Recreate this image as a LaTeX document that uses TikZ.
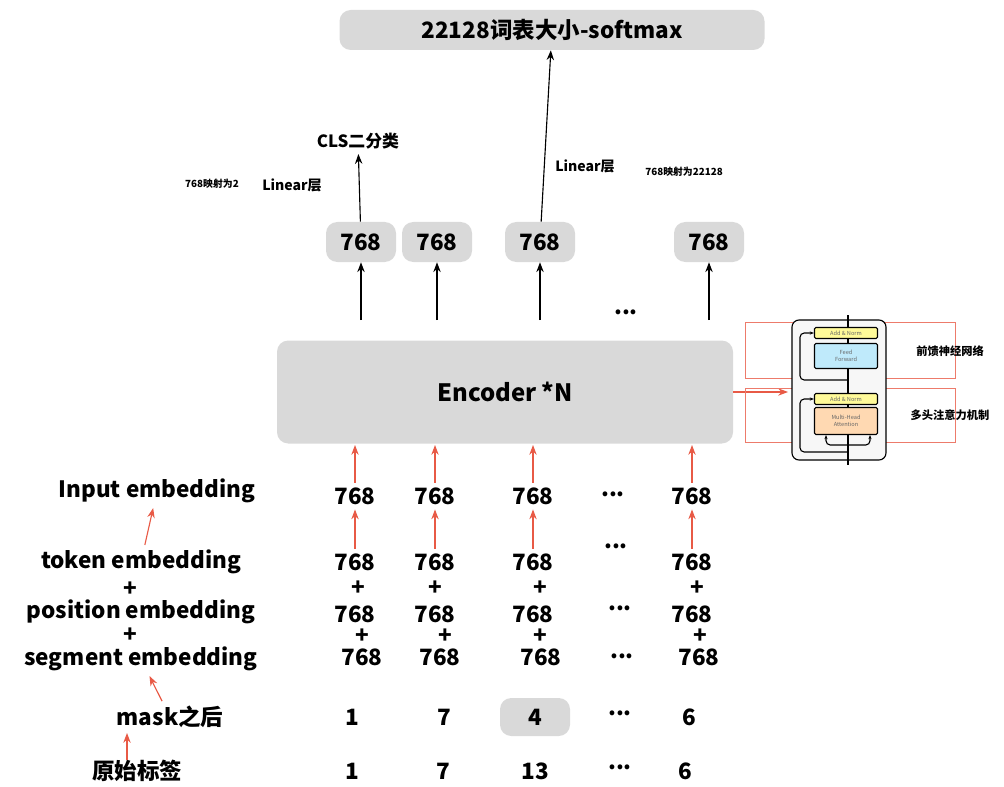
\documentclass[tikz,border=0pt]{standalone}
\usepackage{fontspec}
\setmainfont{Noto Sans CJK SC}
\usetikzlibrary{arrows.meta}
\definecolor{boxgray}{RGB}{217,217,217}
\definecolor{redarrow}{RGB}{232,90,70}
\tikzset{
  txt/.style={font=\bfseries\fontsize{16}{18}\selectfont},
  small/.style={font=\bfseries\fontsize{7}{8}\selectfont},
  gbox/.style={fill=boxgray,rounded corners=8pt,draw=none},
  blk/.style={thick,-{Stealth[length=7pt]}},
  redarr/.style={thick,redarrow,-{Stealth[length=7pt]}},
  tiny/.style={font=\fontsize{4}{5}\selectfont,text=black!60},
}
\begin{document}
\begin{tikzpicture}[x=0.025cm,y=-0.025cm]
\useasboundingbox (0,0) rectangle (1004,787);

% output side
\node[gbox,minimum width=425*0.025cm,minimum height=40*0.025cm,txt] (soft) at (552,30) {22128词表大小-softmax};
\node[font=\bfseries\fontsize{12}{14}\selectfont] (cls) at (358,141) {CLS二分类};
\node[small] (map2) at (212,184) {768映射为2};
\node[font=\bfseries\fontsize{10}{12}\selectfont] (lin1) at (292,185) {Linear层};
\node[font=\bfseries\fontsize{10}{12}\selectfont] (lin2) at (585,166) {Linear层};
\node[small] (map22) at (684,172) {768映射为22128};

\foreach \x/\n in {361/a,437/b,540/c,709/d}{
  \node[gbox,minimum width=70*0.025cm,minimum height=40*0.025cm,txt] (o\n) at (\x,242) {768};
  \coordinate (e\n) at (\x,320);
  \draw[blk] (e\n) -- (o\n);
}
\node[txt] (odots) at (626,312) {...};
\draw[blk] (oa) -- (cls);
\draw[blk] (oc) -- (soft);

% encoder
\node[gbox,minimum width=456*0.025cm,minimum height=103*0.025cm,font=\bfseries\fontsize{17}{20}\selectfont] (enc) at (505,392) {Encoder *N};
\coordinate (blk) at (788,392);
\draw[redarr] (enc.east) -- (blk);

% transformer block
\draw[redarrow!80,semithick] (745,322) rectangle (955,378);
\draw[redarrow!80,semithick] (745,388) rectangle (955,442);
\draw[thick,rounded corners=5pt,fill=black!3] (792,320) rectangle (886,460);
\draw[thick] (848,315) -- (848,465);
\node[draw,thick,fill=yellow!40,rounded corners=1pt,minimum width=63*0.025cm,minimum height=11*0.025cm,inner sep=0pt,tiny] (an1) at (846,333) {Add \& Norm};
\node[draw,thick,fill=cyan!25,rounded corners=1pt,minimum width=63*0.025cm,minimum height=25*0.025cm,inner sep=0pt,tiny,align=center] (ff) at (846,356) {Feed\\Forward};
\node[draw,thick,fill=yellow!40,rounded corners=1pt,minimum width=63*0.025cm,minimum height=11*0.025cm,inner sep=0pt,tiny] (an2) at (846,399) {Add \& Norm};
\node[draw,thick,fill=orange!30,rounded corners=1pt,minimum width=63*0.025cm,minimum height=27*0.025cm,inner sep=0pt,tiny,align=center] (mha) at (846,421) {Multi-Head\\Attention};
\draw[thick,-{Stealth[length=3pt]},rounded corners=3pt] (848,380) -| (800,333) -- (an1.west);
\draw[thick,-{Stealth[length=3pt]},rounded corners=3pt] (848,452) -| (800,399) -- (an2.west);
\draw[thick,-{Stealth[length=3pt]},rounded corners=3pt] (848,445) -| (826,435);
\draw[thick,-{Stealth[length=3pt]},rounded corners=3pt] (848,445) -| (870,435);
\node[font=\bfseries\fontsize{8}{9}\selectfont] (ffn) at (950,351) {前馈神经网络};
\node[font=\bfseries\fontsize{8}{9}\selectfont] (att) at (950,415) {多头注意力机制};

% input side
\node[txt] (inp) at (157,491) {Input embedding};
\node[txt] (tok) at (141,562) {token embedding};
\node[txt] (pl1) at (130,589) {+};
\node[txt] (pos) at (141,612) {position embedding};
\node[txt] (pl2) at (130,635) {+};
\node[txt] (seg) at (141,659) {segment embedding};
\node[txt] (msk) at (170,717) {mask之后};
\node[txt] (raw) at (137,771) {原始标签};
\coordinate (r0) at (127,760);
\coordinate (m0) at (127,733);
\draw[redarr] (tok) -- (inp);
\draw[redarr] (msk) -- (seg);
\draw[redarr] (r0) -- (m0);

\foreach \x/\n in {355/a,435/b,533/c,692/d}{
  \node[txt] (i\n) at (\x,496) {768};
  \node[txt] (t\n) at (\x,562) {768};
  \coordinate (u\n) at (\x,445);
  \draw[redarr] (i\n) -- (u\n);
  \draw[redarr] (t\n) -- (i\n);
}
\foreach \x/\n in {358/a,435/b,540/c,697/d}{ \node[txt] (pa\n) at (\x,588) {+}; }
\foreach \x/\n in {355/a,435/b,533/c,692/d}{ \node[txt] (p\n) at (\x,614) {768}; }
\foreach \x/\n in {362/a,445/b,540/c,700/d}{ \node[txt] (pb\n) at (\x,636) {+}; }
\foreach \x/\n in {362/a,440/b,541/c,699/d}{ \node[txt] (s\n) at (\x,657) {768}; }
\node[txt] (d1) at (613,494) {...};
\node[txt] (d2) at (616,546) {...};
\node[txt] (d3) at (620,608) {...};
\node[txt] (d4) at (622,656) {...};

\node[gbox,minimum width=70*0.025cm,minimum height=38*0.025cm] (mbox) at (535,717) {};
\foreach \x/\v/\n in {352/1/a,444/7/b,535/4/c,689/6/e}{ \node[txt] (m\n) at (\x,717) {\v}; }
\node[txt] (md) at (620,713) {...};
\foreach \x/\v/\n in {352/1/a,443/7/b,535/13/c,685/6/e}{ \node[txt] (r\n) at (\x,771) {\v}; }
\node[txt] (rd) at (620,767) {...};
\end{tikzpicture}
\end{document}
